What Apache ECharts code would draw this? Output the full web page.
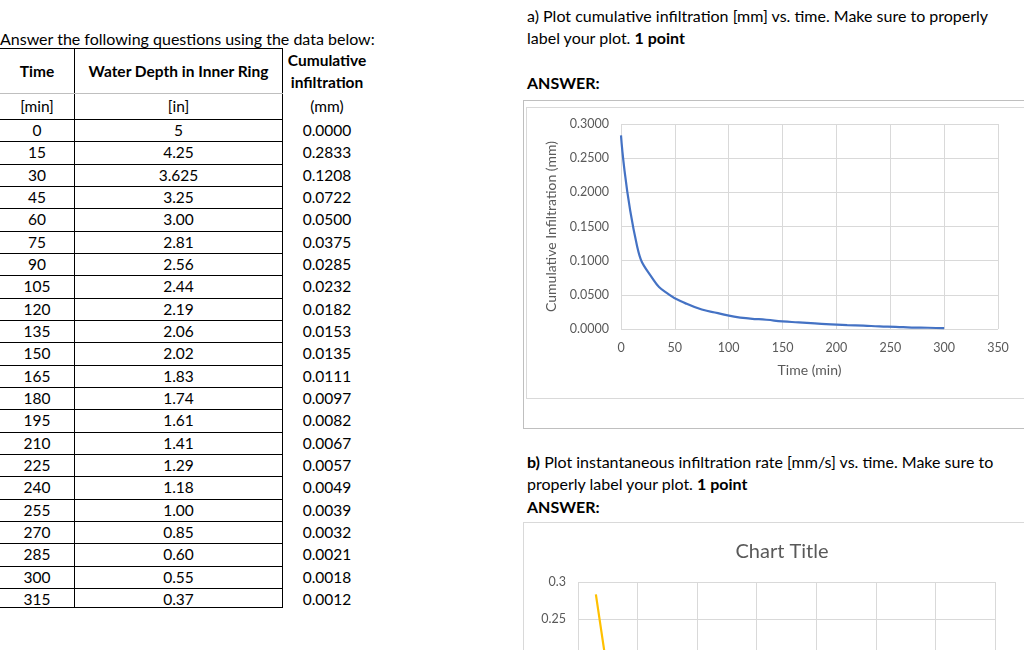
<!DOCTYPE html>
<html><head><meta charset="utf-8">
<script src="https://cdn.jsdelivr.net/npm/echarts@6/dist/echarts.min.js"></script>
<style>
html,body{margin:0;padding:0;width:1024px;height:650px;overflow:hidden;background:#fff;font-family:Lato,"Open Sans",sans-serif;color:#000}
.t{position:absolute;white-space:nowrap;font-size:16px;line-height:18px}
.c{position:absolute;text-align:center;font-size:15.5px;line-height:22px;white-space:nowrap}
.h{position:absolute;left:0;height:0;border-top:1px solid #000}
</style></head><body>
<div id="page"></div>
<div style="position:absolute;left:523px;top:100px;width:510px;height:327px;border:1px solid #bfbfbf"></div>
<div id="ca" style="position:absolute;left:526px;top:107px;width:520px;height:290px;border:1px solid #d9d9d9;background:#fff"></div>
<div id="cb" style="position:absolute;left:523px;top:522px;width:520px;height:310px;border:1px solid #d9d9d9;background:#fff"></div>
<script>
const times=[0,15,30,45,60,75,90,105,120,135,150,165,180,195,210,225,240,255,270,285,300,315];
const timeLabels=["0","15","30","45","60","75","90","105","120","135","150","165","180","195","210","225","240","255","270","285","300","315"];
const depthLabels=["5","4.25","3.625","3.25","3.00","2.81","2.56","2.44","2.19","2.06","2.02","1.83","1.74","1.61","1.41","1.29","1.18","1.00","0.85","0.60","0.55","0.37"];
const cumulative=[0.0000,0.2833,0.1208,0.0722,0.0500,0.0375,0.0285,0.0232,0.0182,0.0153,0.0135,0.0111,0.0097,0.0082,0.0067,0.0057,0.0049,0.0039,0.0032,0.0021,0.0018,0.0012];
const xTicks=[0,50,100,150,200,250,300,350];

const P=document.getElementById('page');
function add(html){P.insertAdjacentHTML('beforeend',html);}
add('<div class="t" style="left:0;top:30px">Answer the following questions using the data below:</div>');
add('<div style="position:absolute;left:-1px;top:48px;width:284px;height:560px;border:1px solid #000;box-sizing:border-box"></div>');
add('<div style="position:absolute;left:74px;top:48px;width:0;height:560px;border-left:1px solid #000"></div>');
add('<div style="position:absolute;left:0;top:93px;width:283px;border-top:1px solid #bfbfbf"></div>');
add('<div class="c" style="left:0;width:74px;top:60px;font-weight:bold">Time</div>');
add('<div class="c" style="left:74px;width:209px;top:60px;font-weight:bold">Water Depth in Inner Ring</div>');
add('<div class="c" style="left:283px;width:88px;top:49px;font-weight:bold">Cumulative</div>');
add('<div class="c" style="left:283px;width:88px;top:71px;font-weight:bold">infiltration</div>');
add('<div class="c" style="left:0;width:74px;top:95px">[min]</div>');
add('<div class="c" style="left:74px;width:209px;top:95px">[in]</div>');
add('<div class="c" style="left:283px;width:88px;top:95px">(mm)</div>');
const rh=22.33;
for(let i=0;i<times.length;i++){
  const y=119+i*rh;
  add('<div class="h" style="top:'+y.toFixed(1)+'px;width:283px"></div>');
  add('<div class="c" style="left:0;width:74px;top:'+y.toFixed(1)+'px">'+timeLabels[i]+'</div>');
  add('<div class="c" style="left:74px;width:209px;top:'+y.toFixed(1)+'px">'+depthLabels[i]+'</div>');
  add('<div class="c" style="left:283px;width:88px;top:'+y.toFixed(1)+'px">'+cumulative[i].toFixed(4)+'</div>');
}
add('<div class="t" style="left:527px;top:7px">a) Plot cumulative infiltration [mm] vs. time. Make sure to properly</div>');
add('<div class="t" style="left:527px;top:29px">label your plot. <b>1 point</b></div>');
add('<div class="t" style="left:527px;top:74px;font-weight:bold">ANSWER:</div>');
add('<div class="t" style="left:527px;top:453px"><b>b)</b> Plot instantaneous infiltration rate [mm/s] vs. time. Make sure to</div>');
add('<div class="t" style="left:527px;top:475px">properly label your plot. <b>1 point</b></div>');
add('<div class="t" style="left:527px;top:498px;font-weight:bold">ANSWER:</div>');

const lbl={color:'#595959',fontSize:12.5,fontFamily:'Lato'};
const grid={lineStyle:{color:'#d9d9d9'}};
const ptsA=times.slice(0,21).map((t,i)=>[t,cumulative[i+1]]);
echarts.init(document.getElementById('ca')).setOption({
  animation:false,
  grid:{left:94,top:16,width:377,height:205},
  xAxis:{type:'value',min:0,max:350,interval:50,axisLine:{show:false},axisTick:{show:false},splitLine:grid,
    axisLabel:Object.assign({margin:12},lbl),name:'Time (min)',nameLocation:'middle',nameGap:34,nameTextStyle:{color:'#595959',fontSize:14,fontFamily:'Lato'}},
  yAxis:{type:'value',min:0,max:0.3,interval:0.05,axisLine:{show:false},axisTick:{show:false},splitLine:grid,
    axisLabel:Object.assign({formatter:v=>v.toFixed(4),margin:12},lbl),name:'Cumulative Infiltration (mm)',nameLocation:'middle',nameGap:60,nameTextStyle:{color:'#595959',fontSize:14,fontFamily:'Lato'}},
  series:[{type:'line',data:ptsA,smooth:true,showSymbol:false,lineStyle:{color:'#4472c4',width:2.2}}]
});
const ptsB=times.slice(1).map((t,i)=>[t,cumulative[i+1]]);
echarts.init(document.getElementById('cb')).setOption({
  animation:false,
  title:{text:'Chart Title',left:253,textAlign:'center',top:14,textStyle:{color:'#595959',fontSize:20,fontWeight:'normal',fontFamily:'Lato'}},
  grid:{left:54,top:59,width:417,height:222},
  xAxis:{type:'value',min:0,max:350,interval:50,axisLine:{show:false},axisTick:{show:false},splitLine:grid,axisLabel:{show:false}},
  yAxis:{type:'value',min:0,max:0.3,interval:0.05,axisLine:{show:false},axisTick:{show:false},splitLine:grid,axisLabel:Object.assign({margin:12},lbl)},
  series:[{type:'line',data:ptsB,showSymbol:false,lineStyle:{color:'#ffc000',width:2.2}}]
});
</script></body></html>
